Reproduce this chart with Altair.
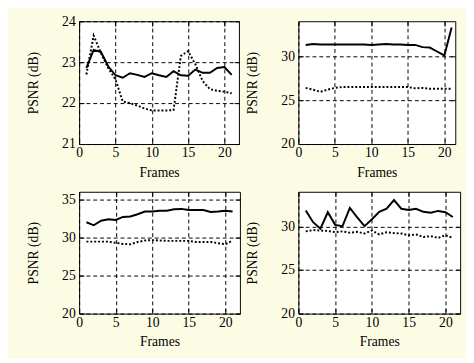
import altair as alt
import pandas as pd

frames = list(range(1, 22))
x_ticks = [0, 5, 10, 15, 20]

p1_solid = [22.86, 23.30, 23.25, 22.90, 22.68, 22.62, 22.73, 22.69, 22.64, 22.73, 22.68,
            22.64, 22.78, 22.68, 22.67, 22.82, 22.74, 22.74, 22.86, 22.88, 22.69]
p1_dotted = [22.70, 23.65, 23.22, 22.86, 22.58, 22.04, 22.00, 21.94, 21.87, 21.82, 21.82,
             21.82, 21.83, 23.15, 23.27, 22.95, 22.54, 22.34, 22.30, 22.28, 22.24]
p1_yticks = [21, 22, 23, 24]

p2_solid = [31.30, 31.40, 31.35, 31.35, 31.35, 31.35, 31.35, 31.35, 31.35, 31.30, 31.35,
            31.40, 31.35, 31.35, 31.30, 31.30, 31.05, 31.00, 30.55, 30.10, 33.30]
p2_dotted = [26.40, 26.20, 25.95, 26.20, 26.40, 26.50, 26.50, 26.50, 26.50, 26.50, 26.50,
             26.50, 26.50, 26.50, 26.50, 26.35, 26.40, 26.30, 26.30, 26.30, 26.30]
p2_yticks = [20, 25, 30]

p3_solid = [32.00, 31.60, 32.20, 32.40, 32.30, 32.70, 32.75, 33.05, 33.40, 33.40, 33.50,
            33.50, 33.70, 33.75, 33.60, 33.60, 33.60, 33.35, 33.40, 33.50, 33.40]
p3_dotted = [29.45, 29.45, 29.45, 29.45, 29.30, 29.15, 29.10, 29.40, 29.60, 29.65, 29.60,
             29.55, 29.55, 29.55, 29.55, 29.40, 29.40, 29.40, 29.25, 29.10, 29.60]
p3_yticks = [20, 25, 30, 35]

p4_solid = [31.85, 30.50, 29.75, 31.65, 30.20, 30.05, 32.15, 31.05, 30.05, 30.85, 31.70,
            32.05, 33.05, 32.05, 31.90, 32.05, 31.70, 31.60, 31.80, 31.65, 31.10]
p4_dotted = [29.45, 29.60, 29.55, 29.50, 29.35, 29.45, 29.30, 29.40, 29.20, 29.55, 29.10,
             29.35, 29.25, 29.20, 29.00, 29.10, 28.80, 28.90, 28.70, 29.00, 28.70]
p4_yticks = [20, 25, 30]

BG = "#FCFCE5"
INWARD = {"expr": "-5"}


def panel(solid, dotted, ydomain, yticks, xmax, w, h):
    df_s = pd.DataFrame({"Frames": frames, "PSNR": solid})
    df_d = pd.DataFrame({"Frames": frames, "PSNR": dotted})
    xscale = alt.Scale(domain=[0, xmax], nice=False, zero=False)
    yscale = alt.Scale(domain=ydomain, nice=False, zero=False)
    solid_line = alt.Chart(df_s).mark_line(color="black", strokeWidth=2).encode(
        x=alt.X("Frames:Q", scale=xscale,
                axis=alt.Axis(values=x_ticks, title="Frames", grid=True, gridColor="black",
                              gridDash=[4, 3], gridOpacity=1, domain=False, tickSize=INWARD,
                              tickColor="black", labelPadding=7, labelFlush=False,
                              titlePadding=6)),
        y=alt.Y("PSNR:Q", scale=yscale,
                axis=alt.Axis(values=yticks, title="PSNR (dB)", grid=True, gridColor="black",
                              gridDash=[4, 3], gridOpacity=1, domain=False, tickSize=INWARD,
                              tickColor="black", labelPadding=9, titlePadding=22)),
    )
    dotted_line = alt.Chart(df_d).mark_line(color="black", strokeWidth=2, strokeDash=[2, 2]).encode(
        x=alt.X("Frames:Q", scale=xscale,
                axis=alt.Axis(values=x_ticks, orient="top", title=None, labels=False, grid=False,
                              domain=False, tickSize=INWARD, tickColor="black")),
        y=alt.Y("PSNR:Q", scale=yscale,
                axis=alt.Axis(values=yticks, orient="right", title=None, labels=False, grid=False,
                              domain=False, tickSize=INWARD, tickColor="black")),
    )
    return alt.layer(solid_line, dotted_line).resolve_axis(
        x="independent", y="independent").properties(width=w, height=h)


c1 = panel(p1_solid, p1_dotted, [21, 24], p1_yticks, 22, 164, 126)
c2 = panel(p2_solid, p2_dotted, [20, 34], p2_yticks, 21.5, 161, 126)
c3 = panel(p3_solid, p3_dotted, [20, 36], p3_yticks, 22, 165, 125)
c4 = panel(p4_solid, p4_dotted, [20, 34], p4_yticks, 22, 166, 125)

chart = alt.concat(c1, c2, c3, c4, columns=2, spacing={"row": 49, "column": 60},
                   bounds="flush", align="each").properties(
    padding={"left": 18, "top": 1, "right": 5, "bottom": 5},
    usermeta={"embedOptions": {"defaultStyle": "body{background:%s;}" % BG}},
).configure(
    background=BG, font="Liberation Serif"
).configure_view(
    fill="white", stroke="black", strokeWidth=1
).configure_axis(
    labelFont="Liberation Serif", titleFont="Liberation Serif", labelFontSize=14,
    titleFontSize=14, titleFontWeight="normal", labelColor="black", titleColor="black"
)

chart.save("out.html", embed_options={"renderer": "svg", "actions": False})
